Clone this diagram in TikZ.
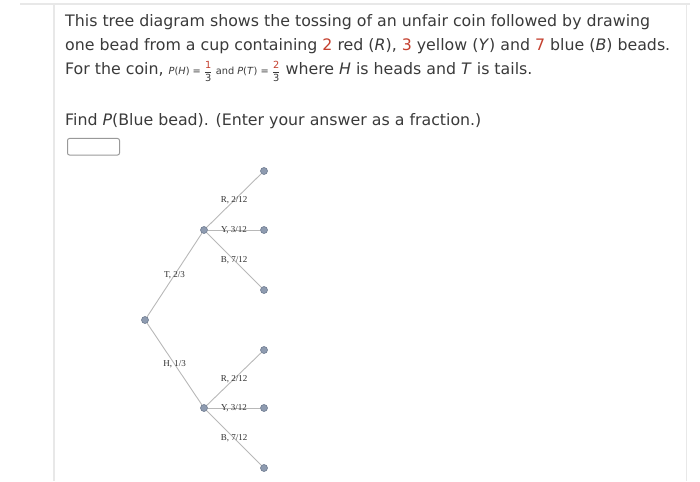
\documentclass[tikz,border=0pt]{standalone}
\usepackage{amsmath}
\usepackage{fontspec}
\setmainfont{DejaVu Sans}
\newfontfamily\lblfont{Liberation Serif}
\usetikzlibrary{positioning}

\definecolor{txtgray}{HTML}{3A3A3A}
\definecolor{numred}{HTML}{C4402F}
\definecolor{edgegray}{HTML}{B8B8B8}
\definecolor{dotfill}{HTML}{8E9BB0}
\definecolor{dotdraw}{HTML}{6F7C90}
\definecolor{framegray}{HTML}{E8E8E8}

\newcommand{\rn}[1]{{\color{numred}#1}}
\newcommand{\pfrac}[2]{$\dfrac{\text{\rn{#1}}}{\text{#2}}$}

\tikzset{
  dot/.style={shape=circle,draw=dotdraw,fill=dotfill,inner sep=0pt,minimum size=7pt,line width=0.6pt},
  branch/.style={draw=edgegray,line width=0.9pt},
  brlabel/.style={font=\lblfont\fontsize{9}{10}\selectfont,text=txtgray!80!black,inner sep=1pt},
  para/.style={anchor=base west,inner sep=0pt,text=txtgray,font=\fontsize{15.8}{18}\selectfont}
}

\begin{document}
\begin{tikzpicture}[x=1pt,y=-1pt,node distance=60pt,on grid]
 \useasboundingbox (0,0) rectangle (700,481);

 % panel frame
 \draw[framegray,line width=1.5pt] (20,4) -- (690,4);
 \draw[framegray,line width=2pt] (54,4) -- (54,481);
 \draw[framegray,line width=1pt] (686,4) -- (686,481);

 % question text
 \node[para] (line1) at (65,27) {This tree diagram shows the tossing of an unfair coin followed by drawing};
 \node[para] (line2) at (65,51) {one bead from a cup containing \rn{2} red (\textit{R}), \rn{3} yellow (\textit{Y}) and \rn{7} blue (\textit{B}) beads.};
 \node[para] (line3) at (65,75) {For the coin, {\fontsize{9.8}{11}\selectfont\textit{P}(\textit{H}) = \pfrac{1}{3} and \textit{P}(\textit{T}) = \pfrac{2}{3}} where \textit{H} is heads and \textit{T} is tails.};
 \node[para] (ask) at (65,126) {Find \textit{P}(Blue bead). (Enter your answer as a fraction.)};
 \draw[draw=gray!80,line width=1pt,rounded corners=2pt] (67.5,138.5) rectangle (119.5,155);

 % tree
 \node[dot] (root) at (145,320) {};
 \node[dot] (t) [above right=90pt and 59pt of root] {};
 \node[dot] (h) [below right=88pt and 59pt of root] {};
 \node[dot] (tr) [above right=59pt and 60pt of t] {};
 \node[dot] (ty) [right=of t] {};
 \node[dot] (tb) [below right=60pt and 60pt of t] {};
 \node[dot] (hr) [above right=58pt and 60pt of h] {};
 \node[dot] (hy) [right=of h] {};
 \node[dot] (hb) [below right=60pt and 60pt of h] {};

 \draw[branch] (root) -- node[brlabel] {T, 2/3} (t);
 \draw[branch] (root) -- node[brlabel] {H, 1/3} (h);
 \draw[branch] (t) -- node[brlabel] {R, 2/12} (tr);
 \draw[branch] (t) -- node[brlabel] {Y, 3/12} (ty);
 \draw[branch] (t) -- node[brlabel] {B, 7/12} (tb);
 \draw[branch] (h) -- node[brlabel] {R, 2/12} (hr);
 \draw[branch] (h) -- node[brlabel] {Y, 3/12} (hy);
 \draw[branch] (h) -- node[brlabel] {B, 7/12} (hb);
\end{tikzpicture}
\end{document}
